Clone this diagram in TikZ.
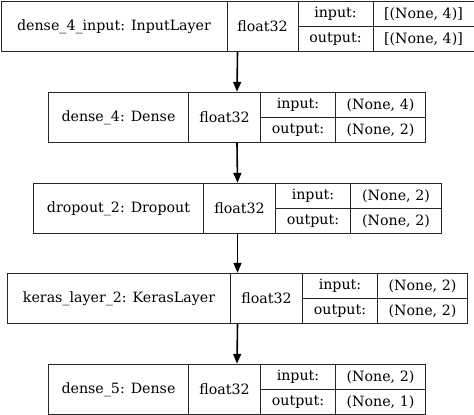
\documentclass[tikz,border=0pt]{standalone}
\usepackage{fontspec}
\setmainfont{DejaVu Serif}
\usetikzlibrary{arrows.meta,fit}
\begin{document}
\begin{tikzpicture}[x=1pt,y=-1pt,
  cell/.style={draw=black!85, line width=1pt, inner sep=0pt, anchor=north west,
    font=\fontsize{14.2}{16}\selectfont, text=black},
  full/.style={cell, minimum height=50pt},
  half/.style={cell, minimum height=25pt},
  rowbox/.style={inner sep=0pt},
  arr/.style={draw=black, line width=1.6pt, -{Triangle[length=10pt,width=8pt]}}]
\useasboundingbox (0,0) rectangle (474,415);
% row 1
\node[full, minimum width=226pt] (r1name) at (0.5,1) {dense\_4\_input: InputLayer};
\node[full, minimum width=71pt] (r1type) at (226.5,1) {float32};
\node[half, minimum width=75pt] (r1ik) at (297.5,1) {input:};
\node[half, minimum width=75pt] (r1ok) at (297.5,26) {output:};
\node[half, minimum width=101pt] (r1iv) at (372.5,1) {[(None, 4)]};
\node[half, minimum width=101pt] (r1ov) at (372.5,26) {[(None, 4)]};
\node[rowbox, fit=(r1name)(r1iv)(r1ov)] (row1) {};
% row 2
\node[full, minimum width=140pt] (r2name) at (48,92) {dense\_4: Dense};
\node[full, minimum width=72pt] (r2type) at (188,92) {float32};
\node[half, minimum width=75pt] (r2ik) at (260,92) {input:};
\node[half, minimum width=75pt] (r2ok) at (260,117) {output:};
\node[half, minimum width=90pt] (r2iv) at (335,92) {(None, 4)};
\node[half, minimum width=90pt] (r2ov) at (335,117) {(None, 2)};
\node[rowbox, fit=(r2name)(r2iv)(r2ov)] (row2) {};
% row 3
\node[full, minimum width=170pt] (r3name) at (33,183) {dropout\_2: Dropout};
\node[full, minimum width=72pt] (r3type) at (203,183) {float32};
\node[half, minimum width=75pt] (r3ik) at (275,183) {input:};
\node[half, minimum width=75pt] (r3ok) at (275,208) {output:};
\node[half, minimum width=91pt] (r3iv) at (350,183) {(None, 2)};
\node[half, minimum width=91pt] (r3ov) at (350,208) {(None, 2)};
\node[rowbox, fit=(r3name)(r3iv)(r3ov)] (row3) {};
% row 4
\node[full, minimum width=223pt] (r4name) at (7,273) {keras\_layer\_2: KerasLayer};
\node[full, minimum width=72pt] (r4type) at (230,273) {float32};
\node[half, minimum width=75pt] (r4ik) at (302,273) {input:};
\node[half, minimum width=75pt] (r4ok) at (302,298) {output:};
\node[half, minimum width=90pt] (r4iv) at (377,273) {(None, 2)};
\node[half, minimum width=90pt] (r4ov) at (377,298) {(None, 2)};
\node[rowbox, fit=(r4name)(r4iv)(r4ov)] (row4) {};
% row 5
\node[full, minimum width=140pt] (r5name) at (48,364) {dense\_5: Dense};
\node[full, minimum width=72pt] (r5type) at (188,364) {float32};
\node[half, minimum width=75pt] (r5ik) at (260,364) {input:};
\node[half, minimum width=75pt] (r5ok) at (260,389) {output:};
\node[half, minimum width=90pt] (r5iv) at (335,364) {(None, 2)};
\node[half, minimum width=90pt] (r5ov) at (335,389) {(None, 1)};
\node[rowbox, fit=(r5name)(r5iv)(r5ov)] (row5) {};
% arrows
\draw[arr] (row1.south) -- (row2.north);
\draw[arr] (row2.south) -- (row3.north);
\draw[arr] (row3.south) -- (row4.north);
\draw[arr] (row4.south) -- (row5.north);
\end{tikzpicture}
\end{document}
